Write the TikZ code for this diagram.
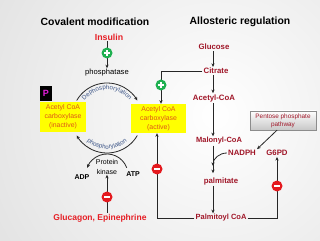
\documentclass[tikz,border=0pt]{standalone}
\usepackage{fontspec}
\setmainfont{Liberation Sans}
\usetikzlibrary{arrows.meta,decorations.text,calc}
\definecolor{ired}{RGB}{230,30,37}
\definecolor{mred}{RGB}{160,22,40}
\definecolor{pgreen}{RGB}{30,176,80}
\definecolor{mminus}{RGB}{228,25,30}
\definecolor{boxyel}{RGB}{255,255,0}
\definecolor{boxtxt}{RGB}{222,86,24}
\definecolor{arcblue}{RGB}{60,85,135}
\definecolor{pmag}{RGB}{230,30,220}
\newcommand\arcfont{\fontsize{6.2}{6.5}\selectfont\color{arcblue}}
\begin{document}
\begin{tikzpicture}[x=1pt,y=1pt,
  arr/.style={-{Stealth[length=3.6pt,width=3.2pt]}, line width=0.8pt, black!85},
  ttl/.style={font=\fontsize{10.4}{12}\selectfont\bfseries, inner sep=1pt},
  redlbl/.style={font=\fontsize{8.8}{10}\selectfont\bfseries, text=ired, inner sep=1pt},
  mlbl/.style={font=\fontsize{7.8}{9}\selectfont\bfseries, text=mred, inner sep=1pt},
  blk/.style={font=\fontsize{7.6}{9}\selectfont, inner sep=1pt},
  blkb/.style={font=\fontsize{7}{8}\selectfont\bfseries, inner sep=1pt},
  ybox/.style={fill=boxyel, text=boxtxt, font=\fontsize{6.9}{8.8}\selectfont, align=center, inner sep=0pt},
  pbox/.style={fill=black, text=pmag, font=\fontsize{9}{10}\selectfont\bfseries, minimum width=12pt, minimum height=15pt, inner sep=0pt},
  pent/.style={draw=black!45, top color=white, bottom color=black!22, text=mred, font=\fontsize{6.4}{8}\selectfont, align=center, minimum width=66pt, minimum height=19pt, inner sep=0pt},
  plusc/.style={circle, fill=pgreen, minimum size=11pt, inner sep=0pt,
    path picture={\draw[white, line width=1.3pt]
      ([xshift=-2.6pt]path picture bounding box.center) -- ([xshift=2.6pt]path picture bounding box.center)
      ([yshift=-2.6pt]path picture bounding box.center) -- ([yshift=2.6pt]path picture bounding box.center);}},
  minusc/.style={circle, fill=mminus, minimum size=11pt, inner sep=0pt,
    path picture={\draw[white, line width=1.3pt]
      ([xshift=-2.6pt]path picture bounding box.center) -- ([xshift=2.6pt]path picture bounding box.center);}}
]
\useasboundingbox (0,0) rectangle (320,240);
\begin{scope}
  \clip (0,0) rectangle (320,240);
  \shade[inner color=white, outer color=black!13] (215,125) circle (300);
\end{scope}

% titles
\node[ttl] (covt) at (95,218) {Covalent modification};
\node[ttl] (allt) at (240,218) {Allosteric regulation};

% covalent side
\node[redlbl] (ins) at (109,203) {Insulin};
\node[blk] (phos) at (107,167) {phosphatase};
\draw[arr] (phos.north |- ins.south) -- (phos.north);
\node[plusc] (p1) at (107,187) {};

\node[ybox, minimum width=46pt, minimum height=30pt] (inact) at (63,123) {Acetyl CoA\\carboxylase\\(inactive)};
\node[pbox] (pb) at (46,146.5) {P};
\node[ybox, minimum width=55pt, minimum height=29pt] (act) at (158.5,121.5) {Acetyl CoA\\carboxylase\\(active)};

\coordinate (cc) at (107,122);
\draw[arr] ($(cc)+(150:35)$) arc[start angle=150, end angle=30, radius=35];
\draw[arr] ($(cc)+(-30:35)$) arc[start angle=-30, end angle=-150, radius=35];
\path[decorate, decoration={text along path, text align=center, text={|\arcfont|Dephosphorylation}}]
  ($(cc)+(150:28.5)$) arc[start angle=150, end angle=30, radius=28.5];
\path[decorate, decoration={text along path, text align=center, text={|\arcfont|phosphorylation}}]
  ($(cc)+(-150:31)$) arc[start angle=-150, end angle=-30, radius=31];

\coordinate (kc) at (107,65);
\draw[arr] ($(kc)+(20:21)$) arc[start angle=20, end angle=160, radius=21];
\node[blk, font=\fontsize{7}{10}\selectfont, align=center] (pk) at (107,73) {Protein\\kinase};
\node[blkb] (adp) at (82,63) {ADP};
\node[blkb] (atp) at (133,66) {ATP};
\node[redlbl, font=\fontsize{8.5}{10}\selectfont\bfseries] (glu) at (100,22) {Glucagon, Epinephrine};
\draw[arr] (pk.south |- glu.north) -- ([yshift=1pt]pk.south);
\node[minusc] (m1) at (107,43) {};

% allosteric side
\coordinate (sp) at (213,0);
\node[mlbl] (gluc) at (214,193) {Glucose};
\node[mlbl] (cit) at (216,169) {Citrate};
\node[mlbl] (acc) at (214,142) {Acetyl-CoA};
\node[mlbl, font=\fontsize{7.5}{9}\selectfont\bfseries] (mal) at (219,99) {Malonyl-CoA};
\node[mlbl] (nadph) at (242,87) {NADPH};
\node[mlbl] (g6pd) at (277,87) {G6PD};
\node[mlbl] (palm) at (221,59) {palmitate};
\node[mlbl, font=\fontsize{7.5}{9}\selectfont\bfseries] (pcoa) at (221,22) {Palmitoyl CoA};
\node[pent] (pent) at (283,119.5) {Pentose phosphate\\pathway};

\draw[arr] (sp |- gluc.south) -- (sp |- cit.north);
\draw[arr] (sp |- cit.south) -- (sp |- acc.north);
\draw[arr] (sp |- acc.south) -- (sp |- mal.north);
\draw[arr] (sp |- mal.south) -- ([yshift=3pt]sp |- palm.north);
\coordinate (join) at (213,74);
\draw[arr] (nadph.west) to[out=180, in=90] (join);
\draw[arr] (sp |- palm.south) -- (sp |- pcoa.north);
\draw[arr] ([xshift=-6pt]pent.south) -- (nadph.north east);

\draw[arr] (cit.west) -| ([xshift=2.5pt]act.north);
\node[plusc] (p2) at (161,155) {};
\draw[arr] (pcoa.west) -| ([xshift=-1.5pt]act.south);
\node[minusc] (m2) at (157,71) {};
\draw[arr] (pcoa.east) -| (g6pd.south);
\node[minusc] (m3) at (277,54) {};
\end{tikzpicture}
\end{document}
